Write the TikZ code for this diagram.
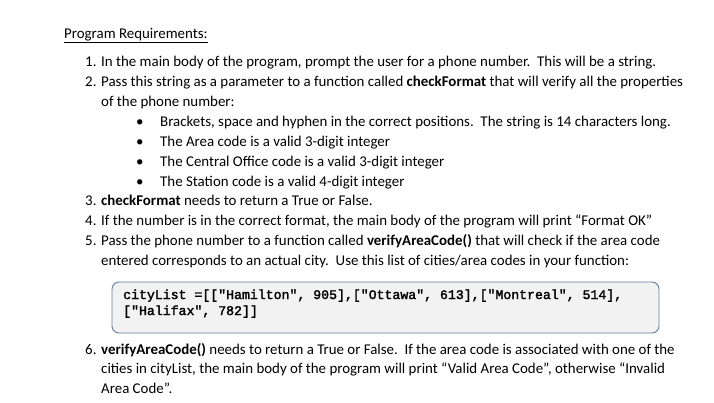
\documentclass[tikz,border=0pt]{standalone}
\usepackage{fontspec}
\setmainfont{Carlito}
\newfontfamily\codefont{Liberation Mono}[FakeBold=2]
\begin{document}
\begin{tikzpicture}[x=1pt,y=-1pt,
  txt/.style={anchor=base west,inner sep=0pt,font=\fontsize{14.9}{16}\selectfont},
  code/.style={anchor=base west,inner sep=0pt,font=\codefont\fontsize{13.2}{15}\selectfont}]
\useasboundingbox (0,0) rectangle (714,402);
\node[txt] (h) at (64,38) {\underline{Program Requirements:}};
\node[txt] (n1) at (85,66) {1.};
\node[txt] (t1) at (101,66) {In the main body of the program, prompt the user for a phone number.\ \ This will be a string.};
\node[txt] (n2) at (85,86) {2.};
\node[txt] (t2) at (101,86) {Pass this string as a parameter to a function called \textbf{checkFormat} that will verify all the properties};
\node[txt] (t2b) at (101,106) {of the phone number:};
\foreach \y/\s [count=\i] in {126/{Brackets, space and hyphen in the correct positions.\ \ The string is 14 characters long.},
  146/{The Area code is a valid 3-digit integer},
  166/{The Central Office code is a valid 3-digit integer},
  186/{The Station code is a valid 4-digit integer}}{
  \node[txt] (b\i) at (136,\y) {\textbullet};
  \node[txt] (bt\i) at (160,\y) {\s};
}
\node[txt] (n3) at (85,205) {3.};
\node[txt] (t3) at (101,205) {\textbf{checkFormat} needs to return a True or False.};
\node[txt] (n4) at (85,225) {4.};
\node[txt] (t4) at (101,225) {If the number is in the correct format, the main body of the program will print “Format OK”};
\node[txt] (n5) at (85,245) {5.};
\node[txt] (t5) at (101,245) {Pass the phone number to a function called \textbf{verifyAreaCode()} that will check if the area code};
\node[txt] (t5b) at (101,265) {entered corresponds to an actual city.\ \ Use this list of cities/area codes in your function:};
\draw[draw={rgb,255:red,100;green,125;blue,155},fill={rgb,255:red,242;green,242;blue,242},line width=0.9pt,rounded corners=7pt] (112,282) rectangle (659,333);
\node[code] (c1) at (123,299) {cityList =[["Hamilton", 905],["Ottawa", 613],["Montreal", 514],};
\node[code] (c2) at (123,315) {["Halifax", 782]]};
\node[txt] (n6) at (85,354) {6.};
\node[txt] (t6) at (101,354) {\textbf{verifyAreaCode()} needs to return a True or False.\ \ If the area code is associated with one of the};
\node[txt] (t6b) at (101,373) {cities in cityList, the main body of the program will print “Valid Area Code”, otherwise “Invalid};
\node[txt] (t6c) at (101,393) {Area Code”.};
\end{tikzpicture}
\end{document}
